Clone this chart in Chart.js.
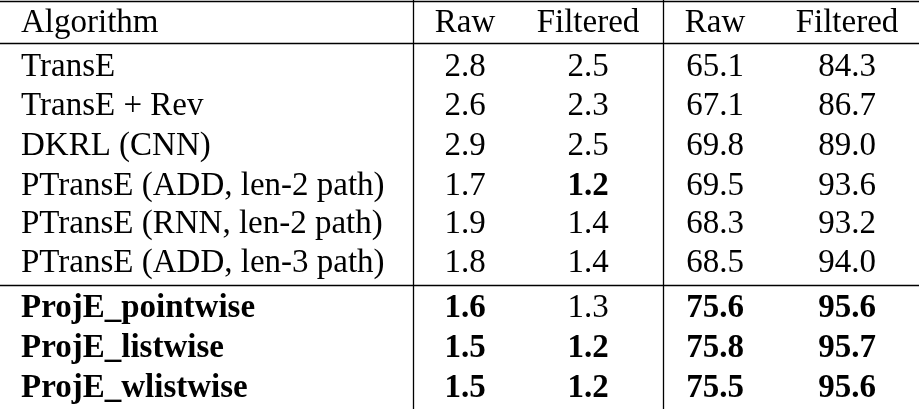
<!DOCTYPE html>
<html><head><meta charset="utf-8">
<script src="https://cdn.jsdelivr.net/npm/chart.js@4/dist/chart.umd.min.js"></script>
<style>html,body{margin:0;padding:0;background:#fff}#w{width:919px;height:412px}</style>
</head><body><div id="w"><canvas id="c"></canvas></div>
<script>
const headers = ['Algorithm','Raw','Filtered','Raw','Filtered'];
const algorithms = ['TransE','TransE + Rev','DKRL (CNN)','PTransE (ADD, len-2 path)','PTransE (RNN, len-2 path)','PTransE (ADD, len-3 path)','ProjE_pointwise','ProjE_listwise','ProjE_wlistwise'];
const raw1 = ['2.8','2.6','2.9','1.7','1.9','1.8','1.6','1.5','1.5'];
const filt1 = ['2.5','2.3','2.5','1.2','1.4','1.4','1.3','1.2','1.2'];
const raw2 = ['65.1','67.1','69.8','69.5','68.3','68.5','75.6','75.8','75.5'];
const filt2 = ['84.3','86.7','89.0','93.6','93.2','94.0','95.6','95.7','95.6'];
const boldCells = [[],[],[],[2],[],[],[0,1,3,4],[0,1,2,3,4],[0,1,2,3,4]];

const colX = [21,465,588,715,847];
const rowY = [66,105,145,185,223,262,307,347,387];
const headerY = 22;

const tablePlugin = {
  id:'table',
  afterDraw(chart){
    const {ctx, scales:{x,y}} = chart;
    const X = v=>x.getPixelForValue(v), Y = v=>y.getPixelForValue(v);
    ctx.save();
    ctx.strokeStyle='#000'; ctx.lineWidth=1.3;
    const hl=(yy)=>{ctx.beginPath();ctx.moveTo(X(0),Y(yy));ctx.lineTo(X(919),Y(yy));ctx.stroke();};
    hl(1.5); hl(43.5); hl(285.5);
    [413.5,663.5].forEach(v=>{ctx.beginPath();ctx.moveTo(X(v),Y(0));ctx.lineTo(X(v),Y(409));ctx.stroke();});
    ctx.fillStyle='#000'; ctx.textBaseline='middle';
    const font=(b)=>(b?'bold ':'')+'33px "Liberation Serif", "Times New Roman", serif';
    headers.forEach((h,i)=>{ctx.font=font(false);ctx.textAlign=i===0?'left':'center';ctx.fillText(h,X(colX[i]),Y(headerY+1));});
    const cols=[algorithms,raw1,filt1,raw2,filt2];
    algorithms.forEach((_,r)=>{
      cols.forEach((col,c)=>{
        ctx.font=font(boldCells[r].includes(c));
        ctx.textAlign=c===0?'left':'center';
        ctx.fillText(col[r],X(colX[c]),Y(rowY[r]+1));
      });
    });
    ctx.restore();
  }
};

new Chart(document.getElementById('c'),{
  type:'scatter',
  data:{datasets:[{data:[],pointRadius:0}]},
  options:{
    responsive:true,maintainAspectRatio:false,animation:false,
    layout:{padding:0},
    plugins:{legend:{display:false},tooltip:{enabled:false}},
    scales:{
      x:{type:'linear',min:0,max:919,display:false},
      y:{type:'linear',min:0,max:412,reverse:true,display:false}
    }
  },
  plugins:[tablePlugin]
});
</script></body></html>
